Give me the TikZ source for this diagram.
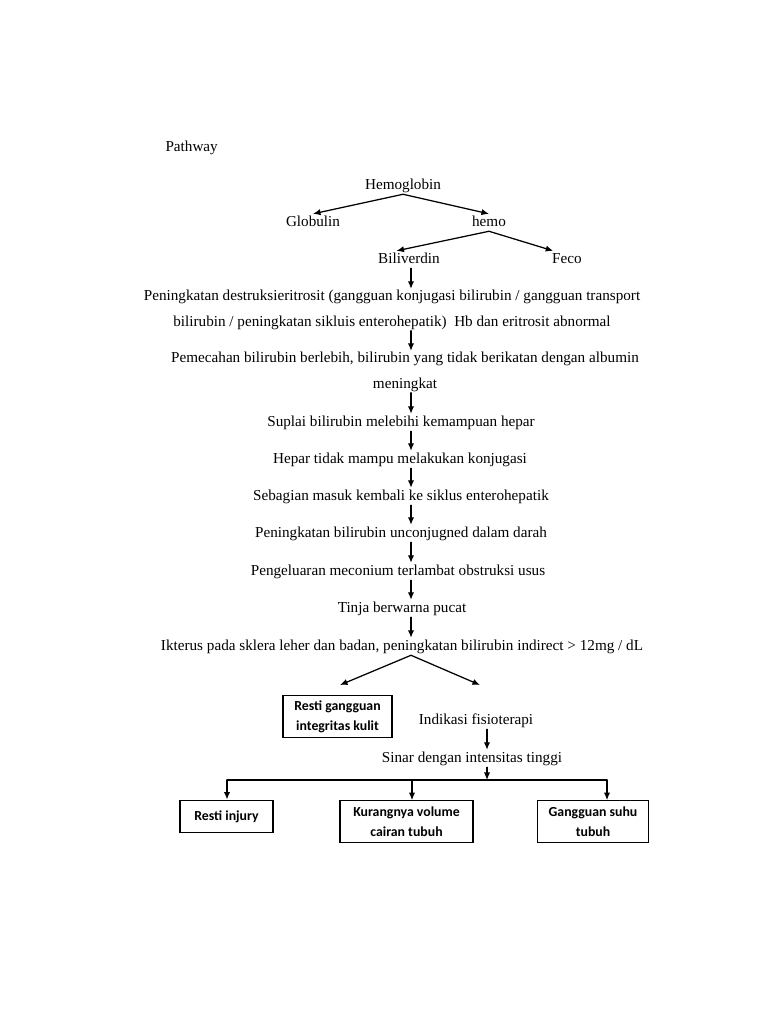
\documentclass[tikz,border=0pt]{standalone}
\usepackage{fontspec}
\setmainfont{Liberation Serif}
\newfontfamily\boxfont{Carlito}
\usetikzlibrary{arrows.meta}
\usetikzlibrary{positioning}

\begin{document}
\begin{tikzpicture}[x=0.796875pt, y=-0.796875pt, line cap=round,
    txt/.style={font=\fontsize{12.1}{20}\selectfont, inner sep=1pt, text height=8.5pt, text depth=3pt, anchor=base},
    para/.style={font=\fontsize{12.1}{20}\selectfont, inner sep=1pt, align=center, anchor=base},
    kotak/.style={draw, line width=1pt, font=\boxfont\bfseries\fontsize{11}{16}\selectfont, align=center, inner sep=2pt},
    arr/.style={line width=1pt, -{Latex[length=6pt, width=5pt]}}]

    \useasboundingbox (0,0) rectangle (768,1024);

    \node [txt, anchor=base west] (pw) at (164, 151) {Pathway};

    % pohon hemoglobin
    \node [txt] (hb) at (403, 189) {Hemoglobin};
    \node [txt] (gl) at (313, 226) {Globulin};
    \node [txt] (he) at (489, 226) {hemo};
    \node [txt] (bv) at (409, 263) {Biliverdin};
    \node [txt] (fe) at (567, 263) {Feco};
    \draw [arr] (hb.south) -- (gl.north);
    \draw [arr] (hb.south) -- (he.north);
    \draw [arr] (he.south) -- ([xshift=-10pt]bv.north);
    \draw [arr] (he.south) -- ([xshift=-11pt]fe.north);

    % alur utama
    \coordinate (ax) at (411, 0);
    \node [para] (p1) at (392, 326) {Peningkatan destruksieritrosit (gangguan konjugasi bilirubin / gangguan transport\\bilirubin / peningkatan sikluis enterohepatik)\ \ Hb dan eritrosit abnormal};
    \node [para] (p2) at (405, 388) {Pemecahan bilirubin berlebih, bilirubin yang tidak berikatan dengan albumin\\meningkat};
    \node [txt] (s3) at (401, 426) {Suplai bilirubin melebihi kemampuan hepar};
    \node [txt] (s4) at (400, 463) {Hepar tidak mampu melakukan konjugasi};
    \node [txt] (s5) at (401, 500) {Sebagian masuk kembali ke siklus enterohepatik};
    \node [txt] (s6) at (401, 537) {Peningkatan bilirubin unconjugned dalam darah};
    \node [txt] (s7) at (398, 575) {Pengeluaran meconium terlambat obstruksi usus};
    \node [txt] (s8) at (402, 612) {Tinja berwarna pucat};
    \node [txt] (s9) at (402, 650) {Ikterus pada sklera leher dan badan, peningkatan bilirubin indirect > 12mg / dL};

    \draw [arr] (bv.south -| ax) -- (p1.north -| ax);
    \draw [arr] (p1.south -| ax) -- (p2.north -| ax);
    \draw [arr] (p2.south -| ax) -- (s3.north -| ax);
    \draw [arr] (s3.south -| ax) -- (s4.north -| ax);
    \draw [arr] (s4.south -| ax) -- (s5.north -| ax);
    \draw [arr] (s5.south -| ax) -- (s6.north -| ax);
    \draw [arr] (s6.south -| ax) -- (s7.north -| ax);
    \draw [arr] (s7.south -| ax) -- (s8.north -| ax);
    \draw [arr] (s8.south -| ax) -- (s9.north -| ax);

    % cabang bawah
    \coordinate (tl) at (340, 685);
    \coordinate (tr) at (480, 685);
    \draw [arr] (s9.south -| ax) -- (tl);
    \draw [arr] (s9.south -| ax) -- (tr);

    \node [kotak, minimum width=87pt, minimum height=33pt] (rg) at (337.5, 716.5) {Resti gangguan\\integritas kulit};
    \node [txt] (ind) at (476, 724) {Indikasi fisioterapi};
    \node [txt] (sin) at (472, 762) {Sinar dengan intensitas tinggi};

    \coordinate (sx) at (487, 0);
    \coordinate (bm) at (487, 780);
    \coordinate (bl) at (227, 780);
    \coordinate (bk) at (412, 780);
    \coordinate (br) at (607, 780);
    \draw [arr] (ind.south -| sx) -- (sin.north -| sx);
    \draw [arr] (sin.south -| sx) -- (bm);
    \draw [line width=1pt] (bl) -- (br);

    \node [kotak, minimum width=74pt, minimum height=26pt] (ri) at (226.5, 816.5) {Resti injury};
    \node [kotak, minimum width=106pt, minimum height=33pt] (kv) at (406.5, 821.5) {Kurangnya volume\\cairan tubuh};
    \node [kotak, minimum width=88pt, minimum height=33pt] (gs) at (593, 821.5) {Gangguan suhu\\tubuh};

    \draw [arr] (bl) -- (bl |- ri.north);
    \draw [arr] (bk) -- (bk |- kv.north);
    \draw [arr] (br) -- (br |- gs.north);

\end{tikzpicture}
\end{document}
